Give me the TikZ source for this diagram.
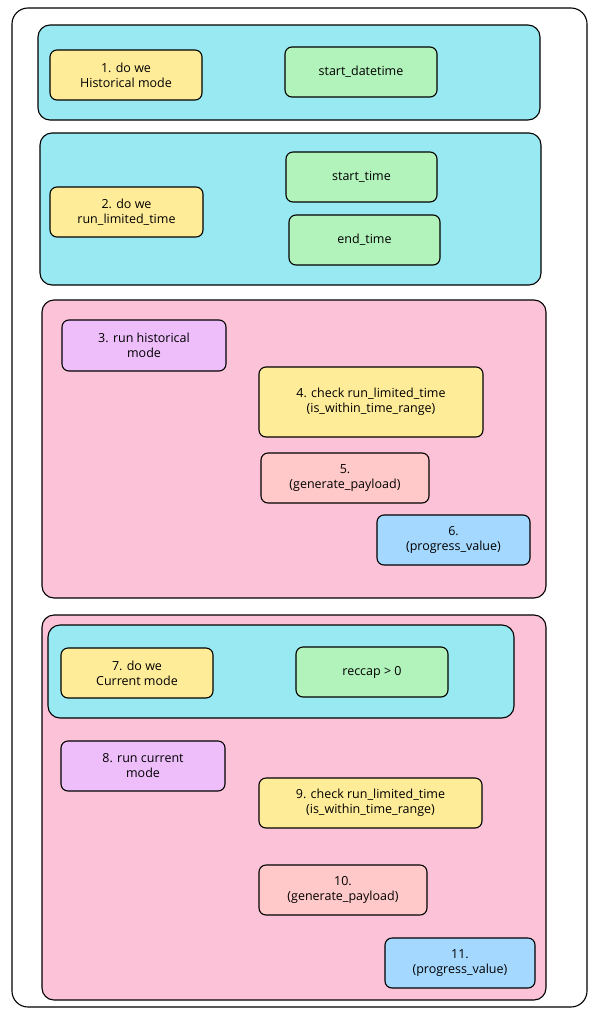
\documentclass[tikz,border=0pt]{standalone}
\usepackage{fontspec}
\setmainfont{Open Sans}
\definecolor{cy}{HTML}{99E9F2}
\definecolor{ye}{HTML}{FFEC99}
\definecolor{gr}{HTML}{B2F2BB}
\definecolor{pk}{HTML}{FCC2D7}
\definecolor{pu}{HTML}{EEBEFA}
\definecolor{sa}{HTML}{FFC9C9}
\definecolor{bl}{HTML}{A5D8FF}
\tikzset{
 grp/.style={draw=black,line width=1.1pt,rounded corners=12pt},
 bx/.style={draw=black,line width=1.1pt,rounded corners=7pt,align=center,font=\fontsize{12.5}{15}\selectfont},
}
\newcommand{\bxn}[7]{\node[bx,fill=#6,minimum width=#3pt-#1pt,minimum height=#4pt-#2pt] (#7) at ({(#1+#3)/2},{(#2+#4)/2}) {#5};}
\begin{document}
\begin{tikzpicture}[x=1pt,y=-1pt]
\useasboundingbox (0,0) rectangle (600,1017);
\draw[grp,fill=white,rounded corners=16pt] (12,8) rectangle (587,1007);
\draw[grp,fill=cy] (38,25) rectangle (540,120);
\bxn{50}{50}{202}{100}{1. do we\\Historical mode}{ye}{n1}
\bxn{285}{47}{437}{97}{start\_datetime}{gr}{sd}
\draw[grp,fill=cy] (40,133) rectangle (541,285);
\bxn{50}{187}{203}{237}{2. do we\\run\_limited\_time}{ye}{n2}
\bxn{286}{152}{437}{202}{start\_time}{gr}{st}
\bxn{289}{215}{440}{265}{end\_time}{gr}{et}
\draw[grp,fill=pk] (42,300) rectangle (546,598);
\bxn{62}{320}{226}{371}{3. run historical\\mode}{pu}{n3}
\bxn{259}{367}{483}{437}{4. check run\_limited\_time\\(is\_within\_time\_range)}{ye}{n4}
\bxn{261}{453}{429}{503}{5.\\(generate\_payload)}{sa}{n5}
\bxn{377}{515}{530}{565}{6.\\(progress\_value)}{bl}{n6}
\draw[grp,fill=pk] (42,615) rectangle (546,1000);
\draw[grp,fill=cy] (48,625) rectangle (514,718);
\bxn{61}{648}{213}{698}{7. do we\\Current mode}{ye}{n7}
\bxn{296}{647}{448}{697}{reccap > 0}{gr}{rc}
\bxn{61}{741}{225}{791}{8. run current\\mode}{pu}{n8}
\bxn{259}{778}{482}{828}{9. check run\_limited\_time\\(is\_within\_time\_range)}{ye}{n9}
\bxn{259}{865}{427}{915}{10.\\(generate\_payload)}{sa}{n10}
\bxn{385}{938}{535}{988}{11.\\(progress\_value)}{bl}{n11}
\end{tikzpicture}
\end{document}
